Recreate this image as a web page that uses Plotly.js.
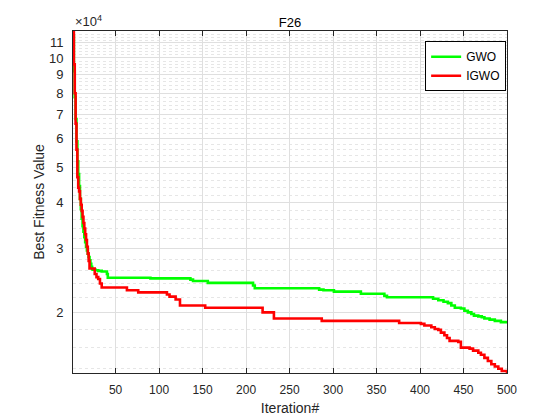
<!DOCTYPE html>
<html>
<head>
<meta charset="utf-8">
<script src="https://cdn.plot.ly/plotly-3.0.1.min.js"></script>
<style>html,body{margin:0;padding:0;background:#fff;}#chart{width:560px;height:420px;}</style>
</head>
<body>
<div id="chart"></div>
<script>
// ---- data ----
const gwoIter = [1,2,3,4,5,6,7,8,9,10,11,12,13,14,15,16,17,18,19,20,21,22,23,24,27,30,34,40,41,90,136,139,156,208,210,284,289,301,332,359,362,415,421,427,432,436,440,447,451,455,459,462,467,471,474,480,486,493,500];
const gwoVal  = [115000,92000,78000,68000,59000,52000,48000,44500,41000,38500,36200,34500,33300,32200,31200,30300,29600,29000,28400,27800,27200,26700,26300,26200,26100,26000,25900,25500,24900,24800,24600,24400,24100,23700,23300,23100,23000,22800,22500,22200,22000,21800,21600,21400,21200,20900,20600,20500,20200,20000,19800,19600,19500,19400,19250,19100,18950,18800,18700];

const igwoIter = [1,2,3,4,5,6,7,8,9,10,11,12,13,14,15,16,17,18,19,20,26,28,30,32,34,63,76,109,112,119,124,153,219,232,287,376,401,405,413,417,421,424,428,431,434,444,447,457,461,467,470,474,478,482,486,490,494,500];
const igwoVal  = [118500,96000,80000,66000,56000,47000,44000,43000,41000,39500,38000,36600,35200,34000,32800,31600,30300,29000,27700,26400,25500,25000,24700,24000,23400,23000,22700,22400,22100,21700,20900,20600,20000,19250,18950,18700,18600,18400,18200,18000,17900,17600,17300,17000,16700,16600,16000,15900,15700,15500,15300,15000,14700,14400,14200,14000,13800,13600];

const xTicks = [50,100,150,200,250,300,350,400,450,500];
const yTickVals = [20000,30000,40000,50000,60000,70000,80000,90000,100000,110000];
const yTickText = ['2','3','4','5','6','7','8','9','10','11'];
const yMinorVals = [];
for (let v = 14000; v <= 118000; v += 2000) { if (v % 10000 !== 0) yMinorVals.push(v); }

const axisColor = '#262626';
const gridColor = '#dfdfdf';
const fontFam = '"Liberation Sans", Arial, Helvetica, sans-serif';

const traces = [
  {x: gwoIter, y: gwoVal, name: 'GWO', type: 'scatter', mode: 'lines',
   line: {color: 'rgb(0,255,0)', width: 2.6, shape: 'hv'}},
  {x: igwoIter, y: igwoVal, name: 'IGWO', type: 'scatter', mode: 'lines',
   line: {color: 'rgb(255,0,0)', width: 2.6, shape: 'hv'}}
];

const layout = {
  width: 560, height: 420,
  margin: {l: 73, r: 53, t: 31, b: 47, pad: 0},
  paper_bgcolor: '#fff', plot_bgcolor: '#fff',
  font: {family: fontFam, color: axisColor, size: 12},
  showlegend: true,
  title: {text: 'F26', x: 0.5, xref: 'paper', xanchor: 'center',
          y: 1, yref: 'paper', yanchor: 'bottom', pad: {b: 4},
          font: {size: 13, color: '#000', family: fontFam}},
  xaxis: {
    range: [1, 500], tickmode: 'array', tickvals: xTicks,
    ticks: 'inside', ticklen: 5, tickcolor: axisColor, tickwidth: 1,
    showline: true, linecolor: axisColor, linewidth: 1, mirror: 'ticks',
    showgrid: true, gridcolor: gridColor, gridwidth: 1, zeroline: false,
    tickfont: {size: 12, color: axisColor}, ticklabelstandoff: 6,
    title: {text: 'Iteration#', font: {size: 14, color: axisColor}, standoff: 6}
  },
  yaxis: {
    type: 'log', range: [Math.log10(13630), Math.log10(118600)],
    tickmode: 'array', tickvals: yTickVals, ticktext: yTickText,
    ticks: 'outside', ticklen: 6, tickcolor: 'rgba(0,0,0,0)', tickwidth: 1,
    showline: true, linecolor: axisColor, linewidth: 1, mirror: true,
    showgrid: true, gridcolor: gridColor, gridwidth: 1, zeroline: false,
    tickfont: {size: 13, color: axisColor},
    minor: {tickmode: 'array', tickvals: yMinorVals, ticks: '',
            showgrid: true, gridcolor: '#e6e6e6', griddash: 'dot', gridwidth: 1},
    title: {text: 'Best Fitness Value', font: {size: 14, color: axisColor}, standoff: 1}
  },
  yaxis2: {
    type: 'log', range: [Math.log10(13630), Math.log10(118600)],
    overlaying: 'y', anchor: 'x', side: 'left',
    tickmode: 'array', tickvals: yTickVals, showticklabels: false,
    ticks: 'inside', ticklen: 5, tickcolor: axisColor, tickwidth: 1,
    showline: false, mirror: 'ticks', showgrid: false, zeroline: false,
    minor: {tickmode: 'array', tickvals: yMinorVals, ticks: 'inside', ticklen: 3,
            tickcolor: axisColor, showgrid: false}
  },
  legend: {
    x: 0.998, xanchor: 'right', y: 0.97, yanchor: 'top',
    bgcolor: '#fff', bordercolor: '#000', borderwidth: 1,
    font: {size: 12, color: '#000'}, tracegroupgap: 0, itemwidth: 30
  },
  annotations: [{
    text: '×10<sup>4</sup>', xref: 'paper', yref: 'paper', x: 0, y: 1,
    xanchor: 'left', yanchor: 'bottom', showarrow: false, yshift: 0,
    font: {size: 13, color: axisColor}
  }]
};

Plotly.newPlot('chart', traces, layout, {displayModeBar: false, staticPlot: true});
</script>
</body>
</html>
